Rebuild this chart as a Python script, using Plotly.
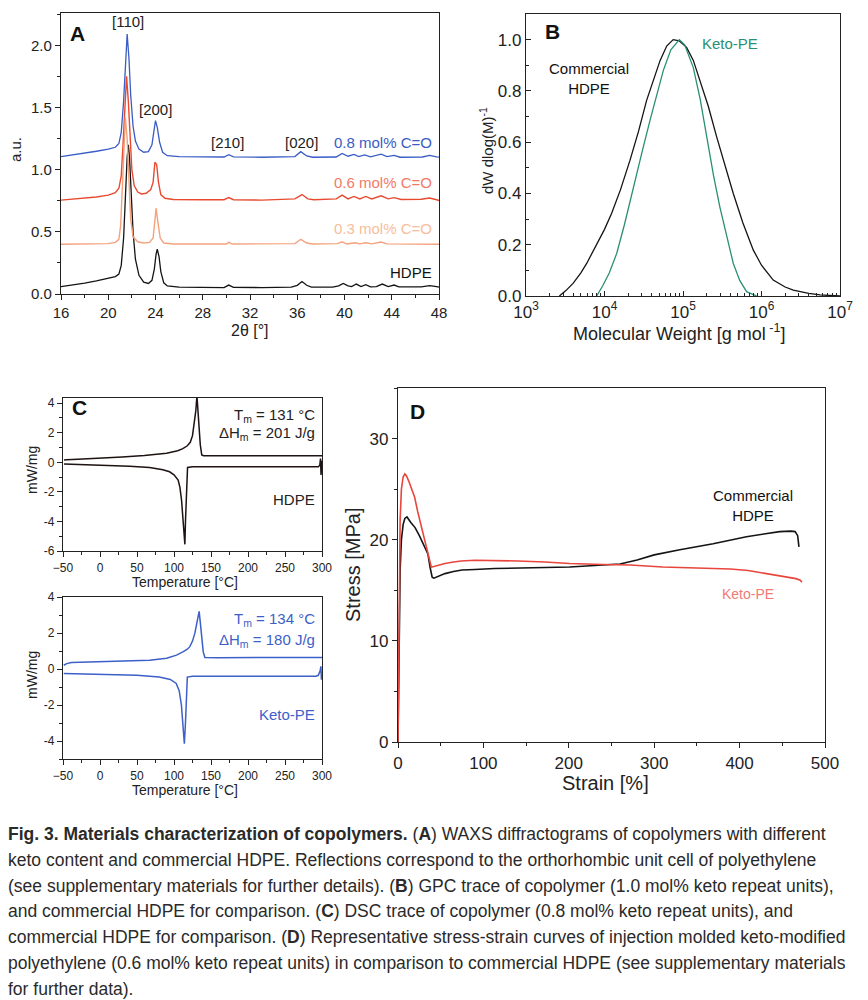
import plotly.graph_objects as go

W, H = 868, 1000
FONT = "Liberation Sans, Arial, sans-serif"
CAP_FONT = "Liberation Sans, Arial, sans-serif"
AX = "#222222"

def px(x):
    return x / W

def py(y):
    return 1 - y / H

# ---------------- Panel A: WAXS ----------------
waxs_hdpe_x = [16.0, 17.0, 18.0, 19.0, 20.0, 20.6, 20.9, 21.1, 21.3, 21.45, 21.6, 21.7, 21.8, 21.95, 22.1, 22.3, 22.6, 23.0, 23.4, 23.7, 23.9, 24.05, 24.15, 24.3, 24.45, 24.7, 25.0, 26.0, 28.0, 29.8, 30.2, 30.6, 33.0, 35.5, 36.0, 36.4, 36.8, 37.2, 39.0, 39.5, 39.9, 40.3, 40.6, 41.0, 41.4, 41.8, 42.2, 42.7, 43.2, 43.7, 44.2, 44.6, 46.5, 47.2, 47.8, 48.0]
waxs_hdpe_y = [0.060, 0.072, 0.088, 0.105, 0.125, 0.140, 0.160, 0.230, 0.450, 0.800, 1.100, 1.200, 1.100, 0.800, 0.500, 0.280, 0.150, 0.095, 0.085, 0.110, 0.200, 0.320, 0.360, 0.300, 0.180, 0.090, 0.065, 0.055, 0.052, 0.052, 0.072, 0.053, 0.052, 0.055, 0.070, 0.100, 0.070, 0.055, 0.055, 0.065, 0.085, 0.065, 0.060, 0.080, 0.060, 0.075, 0.058, 0.060, 0.080, 0.060, 0.072, 0.058, 0.058, 0.068, 0.060, 0.055]

waxs_08_x = [16.0, 17.0, 18.0, 19.0, 20.0, 20.6, 20.9, 21.1, 21.3, 21.45, 21.6, 21.75, 21.9, 22.1, 22.3, 22.6, 23.0, 23.4, 23.7, 23.85, 24.0, 24.15, 24.35, 24.6, 25.0, 26.0, 28.0, 29.8, 30.2, 30.6, 33.0, 35.8, 36.3, 36.8, 37.3, 39.3, 39.8, 40.3, 40.8, 41.2, 41.7, 42.2, 43.1, 43.6, 44.2, 44.7, 46.6, 47.2, 47.8, 48.0]
waxs_08_y = [1.105, 1.118, 1.132, 1.148, 1.165, 1.180, 1.210, 1.300, 1.550, 1.850, 2.090, 1.900, 1.600, 1.350, 1.230, 1.165, 1.140, 1.145, 1.200, 1.300, 1.395, 1.340, 1.220, 1.140, 1.112, 1.105, 1.102, 1.102, 1.120, 1.103, 1.100, 1.105, 1.145, 1.110, 1.100, 1.102, 1.130, 1.108, 1.122, 1.105, 1.118, 1.103, 1.125, 1.105, 1.115, 1.100, 1.102, 1.115, 1.103, 1.100]

waxs_06_x = [16.0, 17.0, 18.0, 19.0, 20.0, 20.6, 20.9, 21.1, 21.25, 21.4, 21.55, 21.7, 21.85, 22.0, 22.2, 22.5, 22.8, 23.2, 23.6, 23.8, 23.95, 24.1, 24.25, 24.45, 24.8, 25.5, 28.0, 29.8, 30.2, 30.6, 33.0, 35.8, 36.4, 36.9, 37.4, 39.3, 39.8, 40.3, 40.8, 41.3, 41.8, 42.3, 43.1, 43.7, 44.2, 44.8, 46.5, 47.2, 47.8, 48.0]
waxs_06_y = [0.755, 0.762, 0.770, 0.780, 0.795, 0.815, 0.850, 0.950, 1.200, 1.500, 1.750, 1.550, 1.250, 1.000, 0.870, 0.820, 0.805, 0.810, 0.840, 0.900, 1.060, 1.040, 0.900, 0.800, 0.770, 0.760, 0.758, 0.758, 0.775, 0.758, 0.755, 0.765, 0.800, 0.765, 0.758, 0.765, 0.795, 0.765, 0.785, 0.765, 0.785, 0.765, 0.790, 0.765, 0.775, 0.760, 0.762, 0.772, 0.758, 0.752]

waxs_03_x = [16.0, 18.0, 20.0, 20.6, 20.9, 21.05, 21.2, 21.35, 21.45, 21.6, 21.75, 21.9, 22.1, 22.5, 23.0, 23.5, 23.8, 23.95, 24.05, 24.2, 24.4, 24.7, 25.5, 30.0, 30.2, 30.5, 35.8, 36.3, 36.8, 37.3, 39.4, 39.8, 40.2, 40.9, 41.3, 41.8, 42.3, 43.1, 43.6, 48.0]
waxs_03_y = [0.400, 0.400, 0.405, 0.415, 0.440, 0.550, 0.900, 1.300, 1.420, 1.250, 0.900, 0.600, 0.460, 0.420, 0.410, 0.415, 0.450, 0.600, 0.690, 0.580, 0.450, 0.410, 0.402, 0.402, 0.415, 0.402, 0.405, 0.440, 0.410, 0.402, 0.405, 0.420, 0.402, 0.412, 0.403, 0.412, 0.403, 0.418, 0.403, 0.400]

# ---------------- Panel B: GPC ----------------
gpc_hdpe_M = [2660, 3200, 4000, 5000, 5930, 8000, 10000, 12300, 16000, 21100, 27000, 34400, 42000, 51000, 62000, 75000, 90000, 111000, 135000, 165000, 210000, 269000, 340000, 437000, 580000, 787000, 1000000, 1410000, 2000000, 2540000, 4000000, 5560000, 10000000]
gpc_hdpe_w = [0.0, 0.02, 0.05, 0.09, 0.127, 0.20, 0.26, 0.322, 0.415, 0.529, 0.64, 0.763, 0.845, 0.918, 0.975, 1.0, 0.995, 0.97, 0.92, 0.84, 0.74, 0.62, 0.51, 0.40, 0.285, 0.179, 0.12, 0.062, 0.035, 0.023, 0.01, 0.004, 0.0]
gpc_keto_M = [7940, 9500, 11500, 14300, 18000, 23300, 30000, 38000, 47000, 56200, 70000, 89800, 105000, 135000, 165000, 200000, 245000, 295000, 360000, 437000, 530000, 646000, 870000]
gpc_keto_w = [0.0, 0.04, 0.09, 0.166, 0.28, 0.426, 0.56, 0.685, 0.79, 0.88, 0.96, 1.0, 0.98, 0.892, 0.77, 0.62, 0.47, 0.347, 0.23, 0.127, 0.06, 0.017, 0.0]

# ---------------- Panel C: DSC ----------------
dsc_hdpe_heat_T = [-48.6, -45, -30, 0, 30, 60, 90, 105, 112, 118, 122, 125, 127.5, 129.5, 131, 132.2, 134, 135.5, 137.5, 140, 200, 300]
dsc_hdpe_heat_y = [0.15, 0.18, 0.21, 0.27, 0.36, 0.46, 0.62, 0.78, 0.92, 1.12, 1.35, 1.8, 2.6, 3.5, 4.5, 3.6, 2.2, 1.2, 0.5, 0.44, 0.44, 0.45]
dsc_hdpe_cool_T = [-48.6, -30, 0, 40, 67, 85, 94, 100, 105.6, 108, 110.2, 112.5, 114.7, 115.5, 117, 118.3, 125, 200, 290, 295, 297, 298, 298.7, 299.5, 300]
dsc_hdpe_cool_y = [-0.12, -0.15, -0.19, -0.26, -0.35, -0.5, -0.64, -0.85, -1.2, -1.7, -2.56, -4.0, -5.55, -4.0, -1.9, -0.35, -0.3, -0.3, -0.3, -0.3, -0.2, 0.25, -0.85, -0.3, 0.1]

dsc_keto_heat_T = [-49, -45, -38.6, 0, 50, 67, 90, 103.4, 112, 118, 121.4, 125, 128.2, 131, 134, 135.5, 137.3, 139.5, 141.7, 160, 300]
dsc_keto_heat_y = [0.21, 0.30, 0.36, 0.40, 0.47, 0.49, 0.60, 0.77, 0.95, 1.10, 1.24, 1.55, 1.99, 2.6, 3.2, 2.6, 1.61, 0.95, 0.64, 0.63, 0.64]
dsc_keto_cool_T = [-49, 0, 50, 80, 95, 103, 107, 110, 112.5, 114, 115.5, 116.8, 118, 125, 200, 292, 295, 297.5, 298.5, 299.2, 300]
dsc_keto_cool_y = [-0.25, -0.28, -0.35, -0.45, -0.58, -0.8, -1.2, -2.0, -3.3, -4.15, -3.0, -1.2, -0.45, -0.4, -0.4, -0.4, -0.35, -0.1, 0.15, -0.6, -0.2]

# ---------------- Panel D: stress-strain ----------------
ss_hdpe_strain = [0, 0.8, 1.5, 2.5, 4, 6, 8, 10.5, 15, 20, 25, 30, 35, 37.5, 40, 42, 48, 55, 65, 75, 90, 113, 172, 201, 240, 260, 280, 300, 330, 369, 408, 447, 460, 465, 468, 469, 469.5]
ss_hdpe_stress = [0, 6, 12, 17, 20, 21.5, 22.1, 22.25, 21.7, 21.2, 20.4, 19.5, 18.6, 17.3, 16.3, 16.2, 16.4, 16.65, 16.85, 17.0, 17.05, 17.15, 17.25, 17.3, 17.5, 17.6, 18.0, 18.5, 19.0, 19.6, 20.3, 20.8, 20.85, 20.8, 20.4, 19.8, 19.3]
ss_keto_strain = [0, 0.8, 1.5, 2.5, 4, 6, 8, 10, 13, 16, 19.5, 23, 27.4, 31, 35, 37.5, 39, 42, 48, 55, 65, 74, 90, 113, 140, 172, 201, 240, 272, 310, 350, 389, 410, 428, 445, 459, 466, 471, 473]
ss_keto_stress = [0, 8, 16, 22, 25, 26.2, 26.5, 26.3, 25.7, 25.0, 24.2, 22.8, 21.3, 19.9, 18.6, 17.6, 17.3, 17.35, 17.5, 17.65, 17.8, 17.9, 17.97, 17.97, 17.9, 17.8, 17.65, 17.55, 17.5, 17.3, 17.2, 17.1, 16.95, 16.7, 16.5, 16.3, 16.15, 16.0, 15.8]

# tick labels
a_yticks = [0.0, 0.5, 1.0, 1.5, 2.0]
a_xticks = [16, 20, 24, 28, 32, 36, 40, 44, 48]
b_xticks = [1e3, 1e4, 1e5, 1e6, 1e7]
b_xticktext = ["10<sup>3</sup>", "10<sup>4</sup>", "10<sup>5</sup>", "10<sup>6</sup>", "10<sup>7</sup>"]
b_yticks = [0.0, 0.2, 0.4, 0.6, 0.8, 1.0]
c_xticks = [-50, 0, 50, 100, 150, 200, 250, 300]
c1_yticks = [4, 2, 0, -2, -4, -6]
c1_yticktext = ["4", "2", "0", "-2", "-4", "-6"]
c2_yticks = [4, 2, 0, -2, -4]
c2_yticktext = ["4", "2", "0", "-2", "-4"]
d_xticks = [0, 100, 200, 300, 400, 500]
d_yticks = [0, 10, 20, 30]

caption_lines = [
    "<b>Fig. 3. Materials characterization of copolymers.</b> (<b>A</b>) WAXS diffractograms of copolymers with different",
    "keto content and commercial HDPE. Reflections correspond to the orthorhombic unit cell of polyethylene",
    "(see supplementary materials for further details). (<b>B</b>) GPC trace of copolymer (1.0 mol% keto repeat units),",
    "and commercial HDPE for comparison. (<b>C</b>) DSC trace of copolymer (0.8 mol% keto repeat units), and",
    "commercial HDPE for comparison. (<b>D</b>) Representative stress-strain curves of injection molded keto-modified",
    "polyethylene (0.6 mol% keto repeat units) in comparison to commercial HDPE (see supplementary materials",
    "for further data).",
]

# colors
C_BLUE = "#3a5cc4"
C_RED = "#e84a30"
C_ORANGE = "#f4a27c"
C_BLACK = "#141414"
C_GREEN = "#2a8f74"
C_DSC_TOP = "#1e1212"
C_DSC_BOT = "#3d5fc8"
C_D_RED = "#e8453c"

fig = go.Figure()

def line(x, y, color, width, xa, ya):
    fig.add_trace(go.Scatter(x=x, y=y, mode="lines", line=dict(color=color, width=width),
                             xaxis=xa, yaxis=ya, showlegend=False, hoverinfo="skip"))

# Panel A traces
line(waxs_hdpe_x, waxs_hdpe_y, C_BLACK, 1.3, "x", "y")
line(waxs_08_x, waxs_08_y, C_BLUE, 1.3, "x", "y")
line(waxs_06_x, waxs_06_y, C_RED, 1.4, "x", "y")
line(waxs_03_x, waxs_03_y, C_ORANGE, 1.4, "x", "y")
# Panel B
line(gpc_hdpe_M, gpc_hdpe_w, C_BLACK, 1.3, "x2", "y2")
line(gpc_keto_M, gpc_keto_w, C_GREEN, 1.3, "x2", "y2")
# Panel C
line(dsc_hdpe_heat_T, dsc_hdpe_heat_y, C_DSC_TOP, 1.5, "x3", "y3")
line(dsc_hdpe_cool_T, dsc_hdpe_cool_y, C_DSC_TOP, 1.5, "x3", "y3")
line(dsc_keto_heat_T, dsc_keto_heat_y, C_DSC_BOT, 1.5, "x4", "y4")
line(dsc_keto_cool_T, dsc_keto_cool_y, C_DSC_BOT, 1.5, "x4", "y4")
# Panel D
line(ss_hdpe_strain, ss_hdpe_stress, C_BLACK, 1.6, "x5", "y5")
line(ss_keto_strain, ss_keto_stress, C_D_RED, 1.6, "x5", "y5")


def base_axis(domain, rng, size, anchor, ticks="outside", **kw):
    d = dict(domain=domain, range=rng, anchor=anchor, showline=True, linecolor=AX, linewidth=1.2,
             ticks=ticks, ticklen=5, tickwidth=1.1, tickcolor=AX, mirror=True,
             showgrid=False, zeroline=False, automargin=False,
             tickfont=dict(family=FONT, size=size, color=AX))
    d.update(kw)
    return d


def over_axis(base, anchor, side, rng, **kw):
    d = dict(overlaying=base, anchor=anchor, side=side, range=rng, showline=False,
             ticks="inside", ticklen=5, tickwidth=1.1, tickcolor=AX, showticklabels=False,
             showgrid=False, zeroline=False, automargin=False)
    d.update(kw)
    return d

A_X = [px(61), px(439)]
A_Y = [py(294), py(13)]
B_X = [px(526), px(840)]
B_Y = [py(296), py(14)]
C_X = [px(63), px(322)]
C1_Y = [py(551), py(398)]
C2_Y = [py(759), py(597)]
D_X = [px(398), px(825)]
D_Y = [py(742), py(388)]

b_minor = [m * 10 ** e for e in range(3, 7) for m in range(2, 10)]

layout_axes = dict(
    xaxis=base_axis(A_X, [16, 48], 15, "y", tickvals=a_xticks,
                    minor=dict(ticks="outside", ticklen=3, dtick=2, tickcolor=AX)),
    yaxis=base_axis(A_Y, [0, 2.26], 15, "x", tickvals=a_yticks, tickformat=".1f",
                    minor=dict(ticks="outside", ticklen=3, dtick=0.25, tickcolor=AX)),
    xaxis2=base_axis(B_X, [3, 7], 17, "y2", ticks="inside", type="log", tickvals=b_xticks, ticktext=b_xticktext,
                     minor=dict(ticks="inside", ticklen=3, tickmode="array", tickvals=b_minor, tickcolor=AX)),
    yaxis2=base_axis(B_Y, [0, 1.1], 17, "x2", ticks="inside", tickvals=b_yticks, tickformat=".1f",
                     minor=dict(ticks="inside", ticklen=3, dtick=0.1, tickcolor=AX)),
    xaxis3=base_axis(C_X, [-50, 300], 12, "y3", tickvals=c_xticks,
                     minor=dict(ticks="outside", ticklen=3, dtick=25, tickcolor=AX)),
    yaxis3=base_axis(C1_Y, [-6, 4.35], 12, "x3", tickvals=c1_yticks, ticktext=c1_yticktext,
                     minor=dict(ticks="outside", ticklen=3, dtick=1, tickcolor=AX)),
    xaxis4=base_axis(C_X, [-50, 300], 12, "y4", tickvals=c_xticks,
                     minor=dict(ticks="outside", ticklen=3, dtick=25, tickcolor=AX)),
    yaxis4=base_axis(C2_Y, [-5, 4], 12, "x4", tickvals=c2_yticks, ticktext=c2_yticktext,
                     minor=dict(ticks="outside", ticklen=3, dtick=1, tickcolor=AX)),
    xaxis5=base_axis(D_X, [0, 500], 17, "y5", tickvals=d_xticks,
                     minor=dict(ticks="outside", ticklen=3, dtick=50, tickcolor=AX)),
    yaxis5=base_axis(D_Y, [0, 35], 17, "x5", tickvals=d_yticks,
                     minor=dict(ticks="outside", ticklen=3, dtick=5, tickcolor=AX)),
    # mirrored inward ticks
    xaxis6=over_axis("x", "y", "top", [16, 48], tickvals=a_xticks,
                     minor=dict(ticks="inside", ticklen=3, dtick=2, tickcolor=AX)),
    yaxis6=over_axis("y", "x", "right", [0, 2.26], tickvals=a_yticks,
                     minor=dict(ticks="inside", ticklen=3, dtick=0.25, tickcolor=AX)),
    xaxis7=over_axis("x2", "y2", "top", [3, 7], type="log", tickvals=b_xticks,
                     minor=dict(ticks="inside", ticklen=3, tickmode="array", tickvals=b_minor, tickcolor=AX)),
    yaxis7=over_axis("y2", "x2", "right", [0, 1.1], tickvals=b_yticks,
                     minor=dict(ticks="inside", ticklen=3, dtick=0.1, tickcolor=AX)),
    xaxis8=over_axis("x3", "y3", "top", [-50, 300], tickvals=c_xticks,
                     minor=dict(ticks="inside", ticklen=3, dtick=25, tickcolor=AX)),
    yaxis8=over_axis("y3", "x3", "right", [-6, 4.35], tickvals=c1_yticks,
                     minor=dict(ticks="inside", ticklen=3, dtick=1, tickcolor=AX)),
    xaxis9=over_axis("x4", "y4", "top", [-50, 300], tickvals=c_xticks,
                     minor=dict(ticks="inside", ticklen=3, dtick=25, tickcolor=AX)),
    yaxis9=over_axis("y4", "x4", "right", [-5, 4], tickvals=c2_yticks,
                     minor=dict(ticks="inside", ticklen=3, dtick=1, tickcolor=AX)),
    xaxis10=over_axis("x5", "y5", "top", [0, 500], tickvals=d_xticks,
                      minor=dict(ticks="inside", ticklen=3, dtick=50, tickcolor=AX)),
    yaxis10=over_axis("y5", "x5", "right", [0, 35], tickvals=d_yticks,
                      minor=dict(ticks="inside", ticklen=3, dtick=5, tickcolor=AX)),
)

ann = []

def t(text, x, y, xref="paper", yref="paper", size=15, color=AX, xanchor="center",
      yanchor="middle", angle=0, family=FONT):
    ann.append(dict(text=text, x=x, y=y, xref=xref, yref=yref, showarrow=False,
                    xanchor=xanchor, yanchor=yanchor, textangle=angle,
                    font=dict(family=family, size=size, color=color)))

# panel letters
t("<b>A</b>", px(77), py(33), size=21, color="#111")
t("<b>B</b>", px(552), py(31), size=21, color="#111")
t("<b>C</b>", px(79), py(407), size=21, color="#111")
t("<b>D</b>", px(417), py(411), size=21, color="#111")

# Panel A labels
t("[110]", 21.65, 2.19, "x", "y")
t("[200]", 24.04, 1.48, "x", "y")
t("[210]", 30.11, 1.215, "x", "y")
t("[020]", 36.32, 1.215, "x", "y")
t("0.8 mol% C=O", 47.55, 1.215, "x", "y", color=C_BLUE, xanchor="right")
t("0.6 mol% C=O", 47.55, 0.893, "x", "y", color="#f27a68", xanchor="right")
t("0.3 mol% C=O", 47.55, 0.53, "x", "y", color="#f8bd9c", xanchor="right")
t("HDPE", 47.55, 0.172, "x", "y", color="#111", xanchor="right")
t("2θ [°]", px(250), py(331), size=16)
t("a.u.", px(15), py(150), size=15, angle=-90)

# Panel B labels
t("Keto-PE", 5.6, 0.984, "x2", "y2", color=C_GREEN)
t("Commercial<br>HDPE", 3.80, 0.85, "x2", "y2", color="#111")
t("Molecular Weight [g mol<sup> -1</sup>]", px(679), py(332), size=18)
t("dW dlog(M)<sup>-1</sup>", px(486), py(150), size=15, angle=-90)

# Panel C labels
t("T<sub>m</sub> = 131 °C", 293, 3.2, "x3", "y3", xanchor="right")
t("ΔH<sub>m</sub> = 201 J/g", 293, 1.95, "x3", "y3", xanchor="right")
t("HDPE", 293, -2.5, "x3", "y3", xanchor="right")
t("T<sub>m</sub> = 134 °C", 293, 2.75, "x4", "y4", color=C_DSC_BOT, xanchor="right")
t("ΔH<sub>m</sub> = 180 J/g", 293, 1.6, "x4", "y4", color=C_DSC_BOT, xanchor="right")
t("Keto-PE", 293, -2.55, "x4", "y4", color=C_DSC_BOT, xanchor="right")
t("mW/mg", px(32), py(470), size=14, angle=-90)
t("Temperature [°C]", px(185), py(582), size=14)
t("mW/mg", px(32), py(675), size=14, angle=-90)
t("Temperature [°C]", px(185), py(790), size=14)

# Panel D labels
t("Commercial<br>HDPE", 416, 23.4, "x5", "y5", color="#111")
t("Keto-PE", 410, 14.6, "x5", "y5", color="#f07a74", size=14)
t("Stress [MPa]", px(353), py(565), size=20, angle=-90)
t("Strain [%]", px(605), py(783), size=20)

# caption
for i, s in enumerate(caption_lines):
    t(s, px(6), py(834 + 25.8 * i), size=17.5, color="#2a2a2a", xanchor="left", family=CAP_FONT)

fig.update_layout(
    width=W, height=H, margin=dict(l=0, r=0, t=0, b=0, pad=0, autoexpand=False),
    paper_bgcolor="white", plot_bgcolor="white",
    annotations=ann, showlegend=False,
    **layout_axes,
)

fig.write_html("out.html")
